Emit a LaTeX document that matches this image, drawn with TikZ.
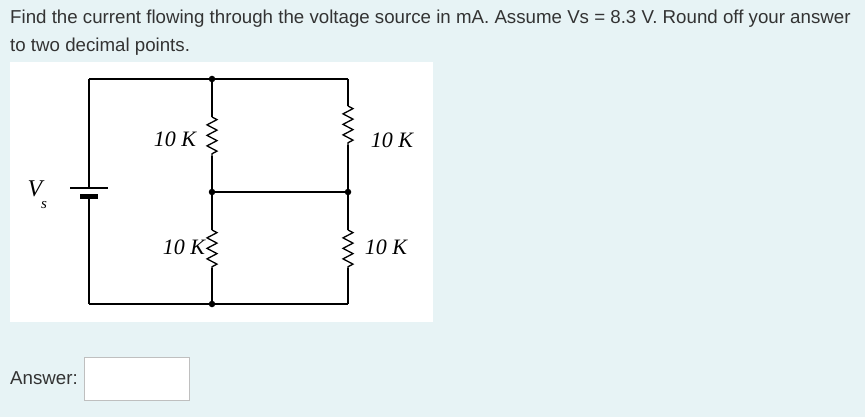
\documentclass[tikz,border=0pt]{standalone}
\usepackage{fontspec}
\setmainfont{Liberation Sans}
\newfontfamily\tms{Liberation Serif}
\usetikzlibrary{decorations.pathmorphing}
\definecolor{pagebg}{HTML}{E7F3F5}
\definecolor{txt}{HTML}{333333}
\begin{document}
\begin{tikzpicture}[x=1pt,y=-1pt,
  wire/.style={line width=1.4pt,black},
  dot/.style={circle,fill=black,inner sep=0pt,minimum size=6.5pt},
  res/.style={line width=1.3pt,decorate,decoration={zigzag,segment length=10.5pt,amplitude=5pt}},
  lab/.style={font=\tms\itshape\fontsize{22}{22}\selectfont,inner sep=0pt},
  qtext/.style={font=\fontsize{18.7}{18.7}\selectfont,text=txt,anchor=west,inner sep=0pt}]
\fill[pagebg] (0,0) rectangle (865,417);
\useasboundingbox (0,0) rectangle (865,417);
\fill[white] (10,62) rectangle (433,322);
\node[qtext] (q1) at (10,19) {Find the current flowing through the voltage source in mA. Assume Vs = 8.3 V. Round off your answer};
\node[qtext] (q2) at (10,47) {to two decimal points.};
\node[qtext] (ans) at (10,378) {Answer:};
\node[draw=gray!50,line width=1pt,fill=white,minimum width=105pt,minimum height=43pt,anchor=north west,inner sep=0pt] (box) at (84,357) {};
% junctions
\coordinate (tl) at (89,79);
\coordinate (bl) at (89,304);
\node[dot] (tm) at (212,79) {};
\node[dot] (mm) at (212,192) {};
\node[dot] (bm) at (212,304) {};
\coordinate (tr) at (348,79);
\node[dot] (mr) at (348,192) {};
\coordinate (br) at (348,304);
% battery
\coordinate (bp) at (89,188);
\coordinate (bn) at (89,196);
\draw[wire] (tl) -- (bp);
\draw[wire] (bn) -- (bl);
\draw[line width=1.4pt] (70,188) -- (108,188);
\draw[line width=4.5pt] (80,196.5) -- (98,196.5);
\node[lab,font=\tms\itshape\fontsize{24}{24}\selectfont] (vs) at (35,189) {V};
\node[lab,font=\tms\itshape\fontsize{15}{15}\selectfont] (vss) at (44,205) {s};
% wires
\draw[wire] (tl) -- (tm) -- (tr);
\draw[wire] (bl) -- (bm) -- (br);
\draw[wire] (mm) -- (mr);
% resistors
\coordinate (r1a) at (212,117); \coordinate (r1b) at (212,156);
\coordinate (r2a) at (348,106); \coordinate (r2b) at (348,145);
\coordinate (r3a) at (212,230); \coordinate (r3b) at (212,268);
\coordinate (r4a) at (348,230); \coordinate (r4b) at (348,268);
\draw[wire] (tm) -- (r1a); \draw[res] (r1a) -- (r1b); \draw[wire] (r1b) -- (mm);
\draw[wire] (tr) -- (r2a); \draw[res] (r2a) -- (r2b); \draw[wire] (r2b) -- (mr);
\draw[wire] (mm) -- (r3a); \draw[res] (r3a) -- (r3b); \draw[wire] (r3b) -- (bm);
\draw[wire] (mr) -- (r4a); \draw[res] (r4a) -- (r4b); \draw[wire] (r4b) -- (br);
\node[lab] (l1) at (175,139) {10 K};
\node[lab] (l2) at (392,140) {10 K};
\node[lab] (l3) at (184,247) {10 K};
\node[lab] (l4) at (386,247) {10 K};
\end{tikzpicture}
\end{document}
